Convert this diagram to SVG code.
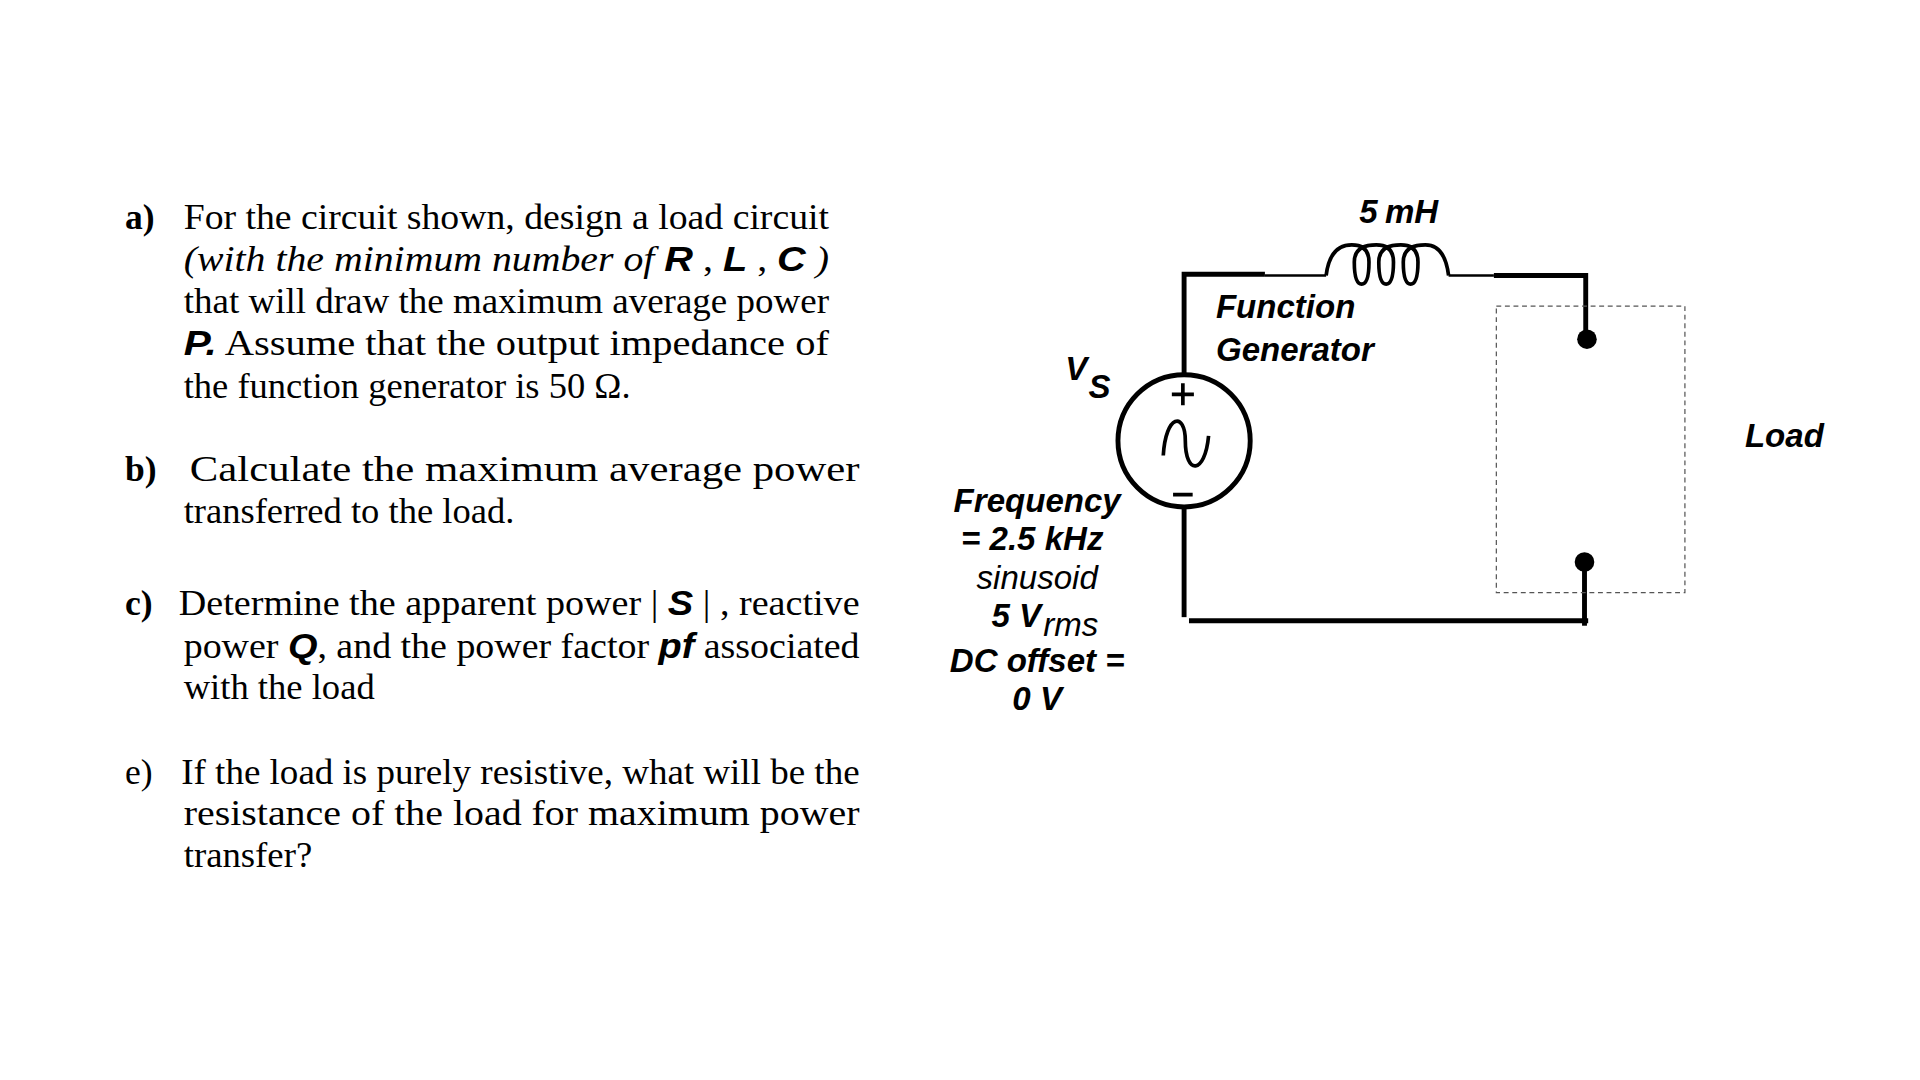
<svg xmlns="http://www.w3.org/2000/svg" width="1920" height="1080" viewBox="0 0 1920 1080">
<style>
.t{font-family:"Liberation Serif","Times New Roman",serif;font-size:29px;fill:#000}
.b{font-weight:bold}
.i{font-style:italic}
.a{font-family:"Liberation Sans",Arial,sans-serif;font-weight:bold;font-style:italic}
.w{stroke:#000;stroke-width:4;fill:none}
.c{font-family:"Liberation Sans",Arial,sans-serif;font-weight:bold;font-style:italic;font-size:27px;fill:#000}
.ci{font-family:"Liberation Sans",Arial,sans-serif;font-style:italic;font-size:27px;fill:#000}
.cb{font-family:"Liberation Sans",Arial,sans-serif;font-weight:bold;font-style:italic;font-size:27px;fill:#000}
</style>
<rect width="1920" height="1080" fill="#fff"/>
<g transform="scale(1.2245)">
<g id="questions">
<text class="t b" x="102" y="187">a)</text>
<text class="t" x="150" y="187" textLength="527" lengthAdjust="spacingAndGlyphs">For the circuit shown, design a load circuit</text>
<text class="t" x="150" y="221" textLength="527" lengthAdjust="spacingAndGlyphs"><tspan class="i">(with the minimum number of </tspan><tspan class="a">R</tspan> , <tspan class="a">L</tspan> , <tspan class="a">C</tspan><tspan class="i"> )</tspan></text>
<text class="t" x="150" y="256" textLength="527" lengthAdjust="spacingAndGlyphs">that will draw the maximum average power</text>
<text class="t" x="150" y="290" textLength="527" lengthAdjust="spacingAndGlyphs"><tspan class="a">P.</tspan> Assume that the output impedance of</text>
<text class="t" x="150" y="325" textLength="365" lengthAdjust="spacingAndGlyphs">the function generator is 50 Ω.</text>
<text class="t b" x="102" y="393">b)</text>
<text class="t" x="155" y="393" textLength="547" lengthAdjust="spacingAndGlyphs">Calculate the maximum average power</text>
<text class="t" x="150" y="427" textLength="270" lengthAdjust="spacingAndGlyphs">transferred to the load.</text>
<text class="t b" x="102" y="502">c)</text>
<text class="t" x="146" y="502" textLength="556" lengthAdjust="spacingAndGlyphs">Determine the apparent power | <tspan class="a">S</tspan> | , reactive</text>
<text class="t" x="150" y="537" textLength="552" lengthAdjust="spacingAndGlyphs">power <tspan class="a">Q</tspan>, and the power factor <tspan class="a">pf</tspan> associated</text>
<text class="t" x="150" y="571" textLength="156" lengthAdjust="spacingAndGlyphs">with the load</text>
<text class="t" x="102" y="640">e)</text>
<text class="t" x="148" y="640" textLength="554" lengthAdjust="spacingAndGlyphs">If the load is purely resistive, what will be the</text>
<text class="t" x="150" y="674" textLength="552" lengthAdjust="spacingAndGlyphs">resistance of the load for maximum power</text>
<text class="t" x="150" y="708" textLength="105" lengthAdjust="spacingAndGlyphs">transfer?</text>
</g>
<g id="connectors">
<path class="w" d="M967,306 V224 H1033"/>
<path d="M1033,225 H1083" stroke="#000" stroke-width="2"/>
<path d="M1183,225 H1220" stroke="#000" stroke-width="2"/>
<path class="w" d="M1220,225 H1295 V277"/>
<path class="w" d="M967,414 V504"/>
<path class="w" d="M971,507 H1297"/>
<path class="w" d="M1294,459 V511" stroke-width="3"/>
</g>
<g id="inductor">
<path fill="none" stroke="#000" stroke-width="3" d="M1083,225 Q1086,200 1104,200 Q1118,200 1118,214 Q1118,232 1112,232 Q1106,232 1106,214 Q1106,200 1124,200 Q1138,200 1138,214 Q1138,232 1132,232 Q1126,232 1126,214 Q1126,200 1144,200 Q1158,200 1158,214 Q1158,232 1152,232 Q1146,232 1146,214 Q1146,200 1164,200 Q1180,200 1183,225"/>
<text class="c" x="1110" y="182">5<tspan dx="6">mH</tspan></text>
</g>
<g id="source">
<circle cx="967" cy="360" r="54" fill="none" stroke="#000" stroke-width="4"/>
<path d="M957,322 H975 M966,313 V331 M958,404 H974" stroke="#000" stroke-width="3"/>
<path d="M950,372 C952,338 968,336 968,360 C968,388 984,388 987,356" fill="none" stroke="#000" stroke-width="3"/>
<text class="c" x="870" y="310" font-size="30">V</text>
<text class="c" x="889" y="325" font-size="22">S</text>
<text class="c" x="993" y="260" font-size="29.5">Function</text>
<text class="c" x="993" y="295" font-size="29.5">Generator</text>
<g text-anchor="middle">
<text class="cb" x="847" y="418">Frequency</text>
<text class="cb" x="843" y="449">= 2.5 <tspan class="ci">kHz</tspan></text>
<text class="ci" x="847" y="481">sinusoid</text>
<text class="cb" x="830" y="512">5 <tspan class="ci">V</tspan></text>
<text class="ci" x="852" y="519" font-size="14" text-anchor="start">rms</text>
<text class="cb" x="847" y="549">DC offset =</text>
<text class="cb" x="847" y="580">0 <tspan class="ci">V</tspan></text>
</g>
</g>
<g id="load">
<rect x="1222" y="250" width="154" height="234" fill="none" stroke="#555" stroke-width="1" stroke-dasharray="4,3"/>
<circle cx="1296" cy="277" r="8"/>
<circle cx="1294" cy="459" r="8"/>
<text class="c" x="1425" y="365">Load</text>
</g>
</g>
</svg>
